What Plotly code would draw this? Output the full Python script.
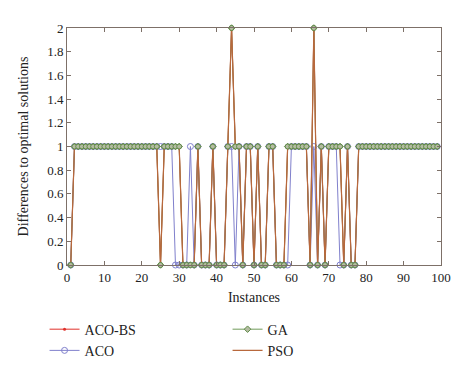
import plotly.graph_objects as go

instances = list(range(1, 100))

aco_bs = [0] + [1]*23 + [0] + [1]*5 + [0, 0, 0, 0] + [1] + [0, 0, 0] + [1] + [0, 0, 0] + \
         [1, 2, 1, 1, 0, 1, 1, 0, 1, 0, 0, 1, 1] + [0, 0, 0] + [1]*6 + [0, 2, 0, 1, 0] + [1]*4 + \
         [0, 1, 0, 0] + [1]*22

aco = [0] + [1]*23 + [1] + [1, 1, 1, 0, 0] + [0, 0, 1, 0] + [1] + [0, 0, 0] + [1] + [0, 0, 0] + \
      [1, 1, 0, 1, 0, 1, 1, 0, 1, 0, 0, 1, 1] + [0, 0, 0] + [0, 1, 1, 1, 1, 1] + [0, 1, 0, 1, 0] + \
      [1, 1, 1, 0] + [0, 1, 0, 0] + [1]*22

ga = [0] + [1]*23 + [0] + [1]*5 + [0, 0, 0, 0] + [1] + [0, 0, 0] + [1] + [0, 0, 0] + \
     [1, 2, 1, 1, 0, 1, 1, 0, 1, 0, 0, 1, 1] + [0, 0, 0] + [1]*6 + [0, 2, 0, 1, 0] + [1]*4 + \
     [0, 1, 0, 0] + [1]*22

pso = [0] + [1]*23 + [0] + [1]*5 + [0, 0, 0, 0] + [1] + [0, 0, 0] + [1] + [0, 0, 0] + \
      [1, 2, 1, 1, 0, 1, 1, 0, 1, 0, 0, 1, 1] + [0, 0, 0] + [1]*6 + [0, 2, 0, 1, 0] + [1]*4 + \
      [0, 1, 0, 0] + [1]*22

y_ticks = [0, 0.2, 0.4, 0.6, 0.8, 1, 1.2, 1.4, 1.6, 1.8, 2]
x_ticks = [0, 10, 20, 30, 40, 50, 60, 70, 80, 90, 100]

FONT = "Liberation Serif"
AXC = "#7d7068"
GA_MARK = dict(symbol="circle", size=5, color="#b4bca2", line=dict(color="#5f8a48", width=1))

fig = go.Figure()
fig.add_trace(go.Scatter(x=instances, y=aco_bs, name="ACO-BS", mode="lines+markers",
                         line=dict(color="#e0302a", width=1),
                         marker=dict(symbol="circle", size=3, color="#e0302a"),
                         cliponaxis=False, legendrank=1))
fig.add_trace(go.Scatter(x=instances, y=aco, name="ACO", mode="lines+markers",
                         line=dict(color="#8080cc", width=1),
                         marker=dict(symbol="circle-open", size=6, color="#8080cc", line=dict(width=1)),
                         cliponaxis=False, legendrank=3))
fig.add_trace(go.Scatter(x=instances, y=ga, name="GA", mode="lines+markers",
                         line=dict(color="#6f9a5a", width=1),
                         marker=dict(symbol="diamond", size=5, color="#b4bca2",
                                     line=dict(color="#5f8a48", width=1)),
                         cliponaxis=False, legendrank=2))
fig.add_trace(go.Scatter(x=instances, y=pso, name="PSO", mode="lines",
                         line=dict(color="#b8683c", width=1.2),
                         cliponaxis=False, legendrank=4))
fig.add_trace(go.Scatter(x=instances, y=ga, name="GA", mode="markers",
                         marker=GA_MARK, showlegend=False, cliponaxis=False))

axis_common = dict(showline=True, linecolor=AXC, linewidth=1, mirror="ticks",
                   ticks="inside", ticklen=4, tickcolor=AXC, showgrid=False, zeroline=False,
                   tickfont=dict(family=FONT, size=13, color="#222"))

fig.update_xaxes(range=[0, 100], tickvals=x_ticks,
                 title=dict(text="Instances", font=dict(family=FONT, size=14, color="#222"), standoff=8),
                 **axis_common)
fig.update_yaxes(range=[0, 2], tickvals=y_ticks, ticktext=[str(v) for v in y_ticks],
                 title=dict(text="Differences to optimal solutions",
                            font=dict(family=FONT, size=14, color="#222"), standoff=15),
                 **axis_common)

fig.update_layout(
    width=466, height=368,
    margin=dict(l=59, r=33, t=20, b=111, autoexpand=False),
    plot_bgcolor="white", paper_bgcolor="white",
    legend=dict(orientation="h", x=-0.06, y=-0.205, xanchor="left", yanchor="top",
                entrywidth=138, entrywidthmode="pixels", tracegroupgap=0,
                font=dict(family=FONT, size=14, color="#222"), itemwidth=30),
)

fig.write_html("out.html")
